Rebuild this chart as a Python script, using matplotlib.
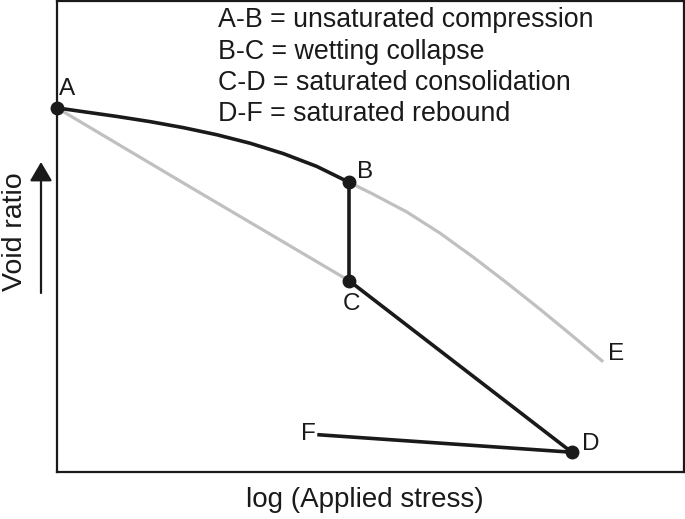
import matplotlib
matplotlib.use("Agg")
import matplotlib.pyplot as plt

plt.rcParams["font.family"] = ["Liberation Sans", "DejaVu Sans"]

# log(stress) on x, void ratio on y, arbitrary units 0..10
# unsaturated path A -> B (black curve)
abX = [0.0, 0.42, 0.95, 1.48, 2.02, 2.55, 3.08, 3.61, 4.14, 4.66]
abY = [7.73, 7.65, 7.55, 7.44, 7.31, 7.16, 6.98, 6.76, 6.49, 6.15]
# wetting collapse B -> C
bcX = [4.66, 4.66]
bcY = [6.15, 4.06]
# saturated consolidation C -> D
cdX = [4.66, 8.21]
cdY = [4.06, 0.42]
# rebound D -> F
dfX = [8.21, 4.18]
dfY = [0.42, 0.79]
# grey reference lines: saturated line A -> C, unsaturated line B -> E
acX = [0.0, 2.01, 4.66]
acY = [7.73, 6.14, 4.06]
beX = [4.66, 5.04, 5.58, 6.11, 6.64, 7.17, 7.70, 8.23, 8.71]
beY = [6.15, 5.90, 5.52, 5.07, 4.56, 4.02, 3.46, 2.88, 2.34]

dotX = [0.0, 4.66, 4.66, 8.21]
dotY = [7.73, 6.15, 4.06, 0.42]

pointNames = ["A", "B", "C", "D", "E", "F"]
pointLabelX = [0.03, 4.79, 4.56, 8.37, 8.79, 3.89]
pointLabelY = [8.00, 6.24, 3.44, 0.47, 2.38, 0.68]

legendLines = ["A-B = unsaturated compression",
               "B-C = wetting collapse",
               "C-D = saturated consolidation",
               "D-F = saturated rebound"]
legendY = [9.45, 8.77, 8.11, 7.45]

black = "#1a1a1a"
grey = "#c0c0c0"

fig = plt.figure(figsize=(6.85, 5.19), dpi=100)
ax = fig.add_axes([57 / 685, 47 / 519, 627 / 685, 471 / 519])

ax.plot(acX, acY, color=grey, lw=2.3, solid_capstyle="butt", zorder=1)
ax.plot(beX, beY, color=grey, lw=2.3, solid_capstyle="butt", zorder=1)

ax.plot(abX, abY, color=black, lw=2.6, zorder=2)
ax.plot(bcX, bcY, color=black, lw=2.6, zorder=2)
ax.plot(cdX, cdY, color=black, lw=2.6, zorder=2)
ax.plot(dfX, dfY, color=black, lw=2.6, zorder=2)
ax.plot(dotX, dotY, "o", color=black, ms=9, zorder=3, clip_on=False)

for name, x, y in zip(pointNames, pointLabelX, pointLabelY):
    ax.text(x, y, name, fontsize=17.5, color=black, ha="left", va="baseline")

for line, y in zip(legendLines, legendY):
    ax.text(2.57, y, line, fontsize=19.3, color=black, ha="left", va="baseline")

ax.set_xlim(0, 10)
ax.set_ylim(0, 10)
ax.set_xticks([])
ax.set_yticks([])
for spine in ax.spines.values():
    spine.set_linewidth(1.6)
    spine.set_color(black)

fig.text(365 / 685, (519 - 507) / 519, "log (Applied stress)", fontsize=20,
         color=black, ha="center", va="baseline")
fig.text(15 / 685, (519 - 232) / 519, "Void ratio", fontsize=20.5, color=black,
         rotation=90, ha="center", va="center")
ax.annotate("", xy=(41 / 685, (519 - 162) / 519), xycoords="figure fraction",
            xytext=(41 / 685, (519 - 293) / 519), textcoords="figure fraction",
            arrowprops=dict(arrowstyle="-|>,head_length=0.58,head_width=0.34",
                            mutation_scale=20, lw=1.6, color=black,
                            shrinkA=0, shrinkB=0))

plt.savefig("out.png", dpi=100)
